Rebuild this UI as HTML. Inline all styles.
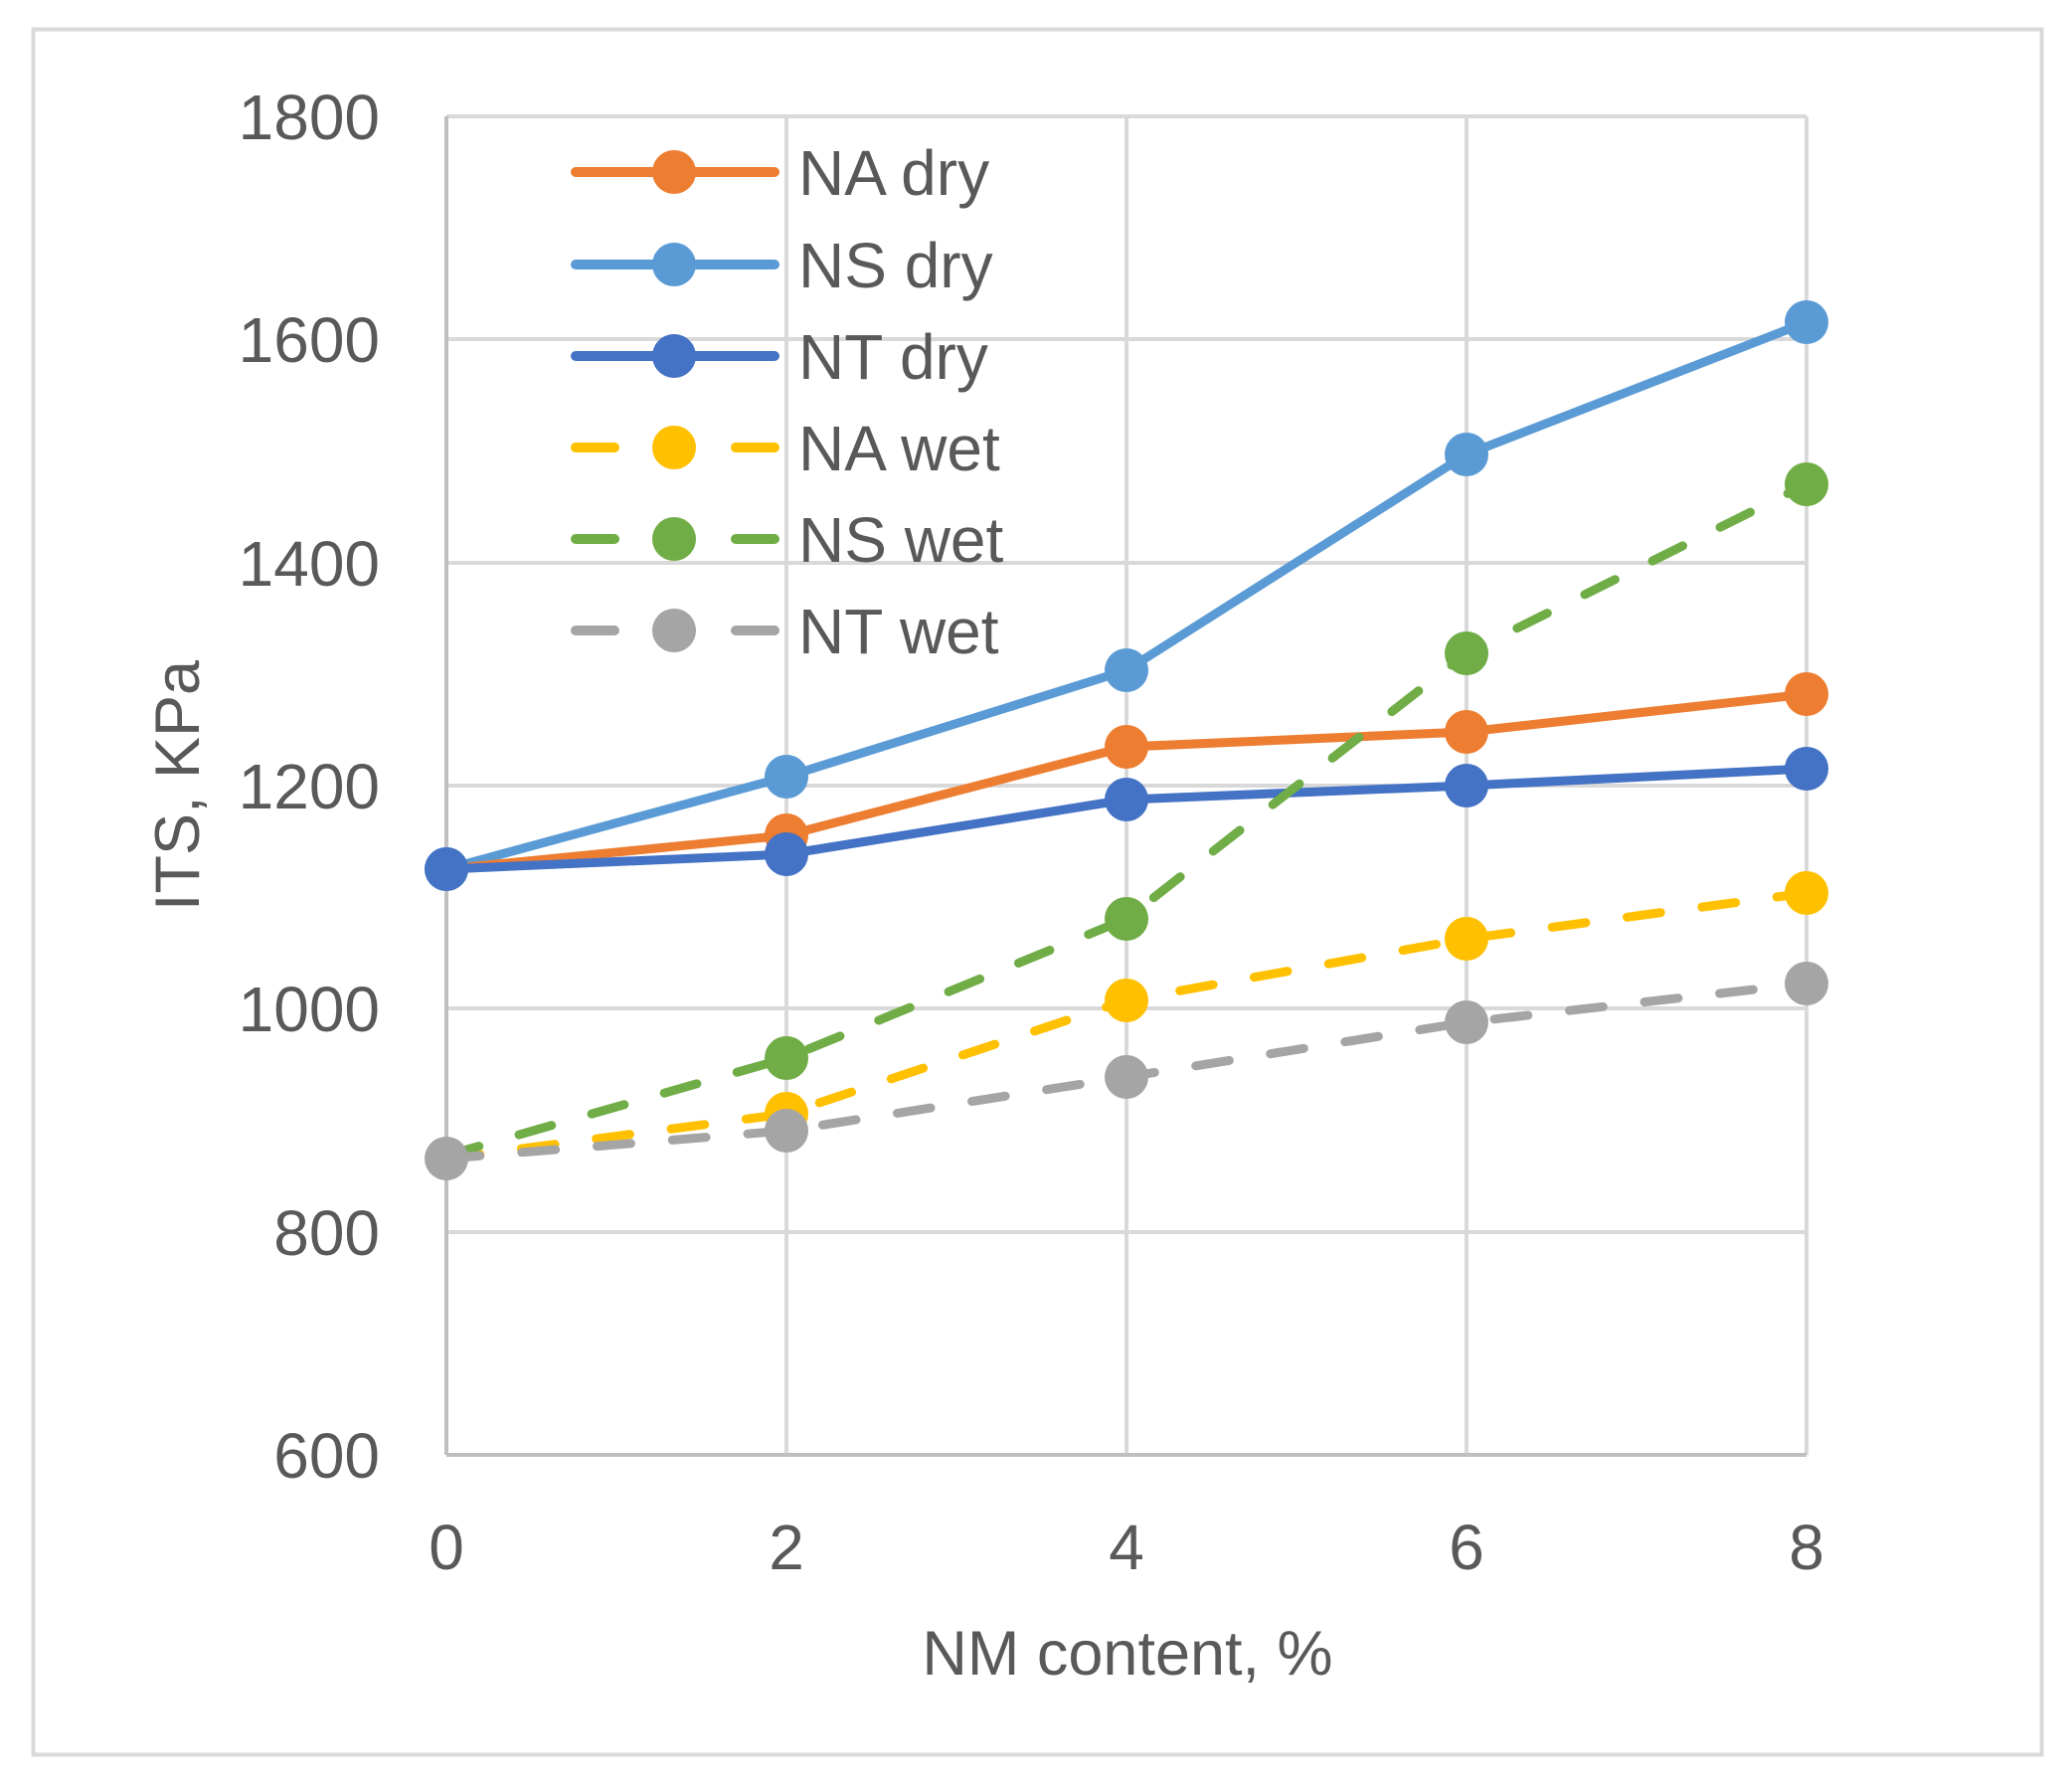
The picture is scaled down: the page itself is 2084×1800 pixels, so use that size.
<!DOCTYPE html>
<html><head><meta charset="utf-8"><style>
html,body{margin:0;padding:0;background:#fff}
svg{display:block}
text{font-family:"Liberation Sans",sans-serif;fill:#595959}
</style></head><body>
<svg width="2084" height="1800" viewBox="0 0 2084 1800" xmlns="http://www.w3.org/2000/svg">
<rect x="0" y="0" width="2084" height="1800" fill="#fff"/>
<rect x="33.5" y="29.5" width="2020" height="1735" fill="none" stroke="#d9d9d9" stroke-width="4"/>
<g stroke="#d9d9d9" stroke-width="4">
<line x1="449" y1="117" x2="1817" y2="117"/>
<line x1="449" y1="341" x2="1817" y2="341"/>
<line x1="449" y1="566" x2="1817" y2="566"/>
<line x1="449" y1="790" x2="1817" y2="790"/>
<line x1="449" y1="1014" x2="1817" y2="1014"/>
<line x1="449" y1="1239" x2="1817" y2="1239"/>
<line x1="791" y1="117" x2="791" y2="1463"/>
<line x1="1133" y1="117" x2="1133" y2="1463"/>
<line x1="1475" y1="117" x2="1475" y2="1463"/>
<line x1="1817" y1="117" x2="1817" y2="1463"/>
</g>
<g stroke="#bfbfbf" stroke-width="4">
<line x1="449" y1="117" x2="449" y2="1463"/>
<line x1="449" y1="1463" x2="1817" y2="1463"/>
</g>
<g font-size="64" text-anchor="end">
<text x="382" y="140">1800</text>
<text x="382" y="364">1600</text>
<text x="382" y="589">1400</text>
<text x="382" y="813">1200</text>
<text x="382" y="1037">1000</text>
<text x="382" y="1262">800</text>
<text x="382" y="1486">600</text>
</g>
<g font-size="64" text-anchor="middle">
<text x="449" y="1578">0</text>
<text x="791" y="1578">2</text>
<text x="1133" y="1578">4</text>
<text x="1475" y="1578">6</text>
<text x="1817" y="1578">8</text>
</g>
<g font-size="63" text-anchor="middle">
<text x="1134" y="1684">NM content, %</text>
<text transform="translate(200,790) rotate(-90)">ITS, KPa</text>
</g>
<g fill="none" stroke-width="9" stroke-linecap="round" stroke-linejoin="round">
<polyline stroke="#5b9bd5" points="449,874 791,781 1133,674 1475,457 1817,324"/>
<polyline stroke="#ed7d31" points="449,874 791,840 1133,751 1475,736 1817,698"/>
<polyline stroke="#4472c4" points="449,874 791,859 1133,804 1475,790 1817,773"/>
<polyline stroke="#ffc000" stroke-dasharray="34 42" points="449,1165 791,1120 1133,1006 1475,944 1817,898"/>
<polyline stroke="#70ad47" stroke-dasharray="34 42" points="449,1162 791,1064 1133,924 1475,657 1817,487"/>
<polyline stroke="#a5a5a5" stroke-dasharray="34 42" points="449,1165 791,1137 1133,1083 1475,1028 1817,989"/>
</g>
<g fill="#5b9bd5"><circle cx="449" cy="874" r="22"/><circle cx="791" cy="781" r="22"/><circle cx="1133" cy="674" r="22"/><circle cx="1475" cy="457" r="22"/><circle cx="1817" cy="324" r="22"/></g>
<g fill="#ed7d31"><circle cx="791" cy="840" r="22"/><circle cx="1133" cy="751" r="22"/><circle cx="1475" cy="736" r="22"/><circle cx="1817" cy="698" r="22"/></g>
<g fill="#4472c4"><circle cx="449" cy="874" r="22"/><circle cx="791" cy="859" r="22"/><circle cx="1133" cy="804" r="22"/><circle cx="1475" cy="790" r="22"/><circle cx="1817" cy="773" r="22"/></g>
<g fill="#ffc000"><circle cx="791" cy="1120" r="22"/><circle cx="1133" cy="1006" r="22"/><circle cx="1475" cy="944" r="22"/><circle cx="1817" cy="898" r="22"/></g>
<g fill="#70ad47"><circle cx="791" cy="1064" r="22"/><circle cx="1133" cy="924" r="22"/><circle cx="1475" cy="657" r="22"/><circle cx="1817" cy="487" r="22"/></g>
<g fill="#a5a5a5"><circle cx="449" cy="1165" r="22"/><circle cx="791" cy="1137" r="22"/><circle cx="1133" cy="1083" r="22"/><circle cx="1475" cy="1028" r="22"/><circle cx="1817" cy="989" r="22"/></g>
<g stroke-width="10" stroke-linecap="round">
<line x1="579" y1="173" x2="779" y2="173" stroke="#ed7d31"/>
<line x1="579" y1="266" x2="779" y2="266" stroke="#5b9bd5"/>
<line x1="579" y1="358" x2="779" y2="358" stroke="#4472c4"/>
<line x1="579" y1="450" x2="618" y2="450" stroke="#ffc000"/><line x1="740" y1="450" x2="779" y2="450" stroke="#ffc000"/>
<line x1="579" y1="542" x2="618" y2="542" stroke="#70ad47"/><line x1="740" y1="542" x2="779" y2="542" stroke="#70ad47"/>
<line x1="579" y1="634" x2="618" y2="634" stroke="#a5a5a5"/><line x1="740" y1="634" x2="779" y2="634" stroke="#a5a5a5"/>
</g>
<circle cx="678" cy="173" r="22" fill="#ed7d31"/>
<circle cx="678" cy="266" r="22" fill="#5b9bd5"/>
<circle cx="678" cy="358" r="22" fill="#4472c4"/>
<circle cx="678" cy="450" r="22" fill="#ffc000"/>
<circle cx="678" cy="542" r="22" fill="#70ad47"/>
<circle cx="678" cy="634" r="22" fill="#a5a5a5"/>
<g font-size="64">
<text x="803" y="196">NA dry</text>
<text x="803" y="289">NS dry</text>
<text x="803" y="381">NT dry</text>
<text x="803" y="473">NA wet</text>
<text x="803" y="565">NS wet</text>
<text x="803" y="657">NT wet</text>
</g>
</svg>
</body></html>
